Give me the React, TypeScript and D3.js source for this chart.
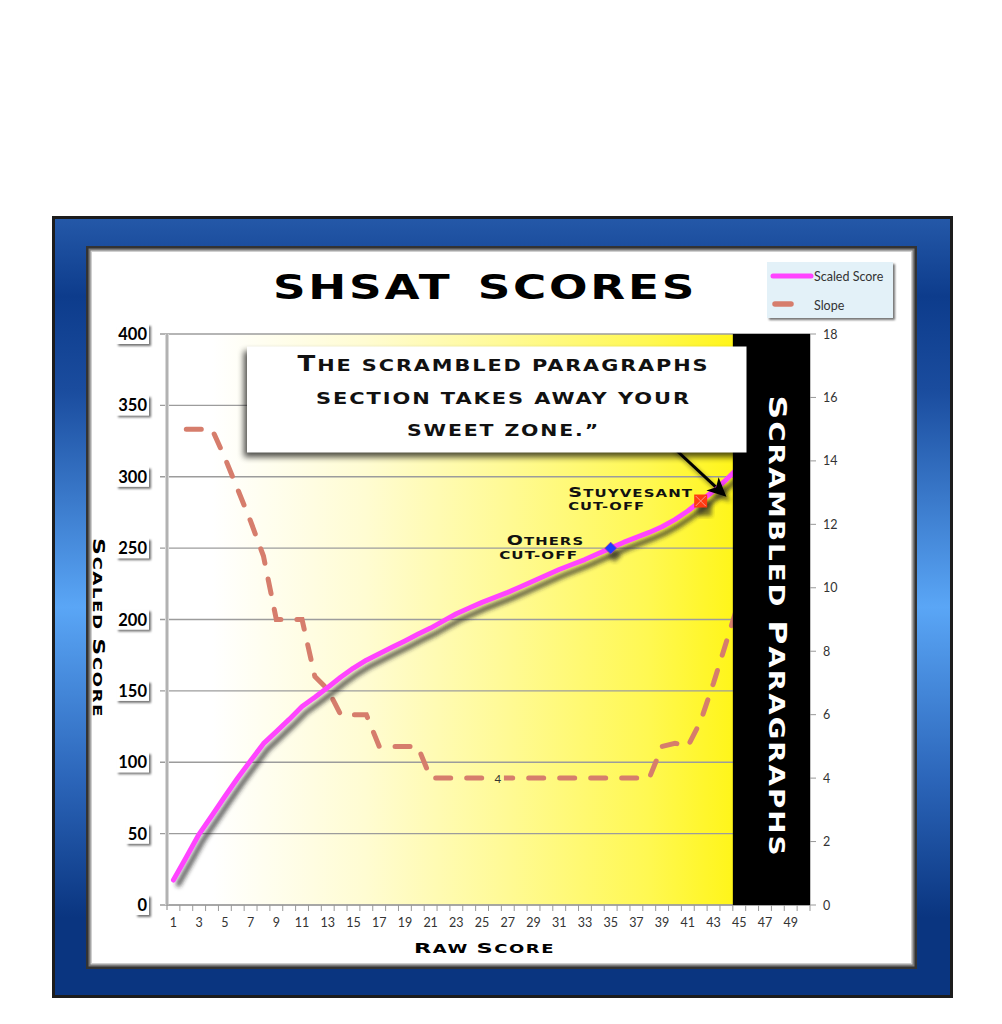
import { useEffect, useRef } from "react";
import * as d3 from "d3";

// Raw score categories (x axis)
const rawScores = [
  1, 2, 3, 4, 5, 6, 7, 8, 9, 10, 11, 12, 13, 14, 15, 16, 17, 18, 19, 20, 21, 22,
  23, 24, 25, 26, 27, 28, 29, 30, 31, 32, 33, 34, 35, 36, 37, 38, 39, 40, 41, 42,
  43, 44, 45, 46, 47, 48, 49, 50,
];

// Scaled score for raw 1..45 (left axis)
const scaledScores = [
  17.5, 33.4, 49.7, 62.7, 76, 89, 101, 113, 121.5, 130, 139, 145.5, 152.4, 159.5,
  166, 171.5, 176, 180.5, 185, 189.6, 194, 199, 204, 208, 212, 215.5, 219, 223,
  227, 231, 235, 238.5, 242, 246, 250, 254, 257.5, 261, 265, 270, 276, 283, 290,
  298, 307,
];

// Slope for raw 2..45 (right axis)
const slopeRaw = [
  2, 3, 4, 5, 6, 7, 8, 9, 10, 11, 12, 13, 14, 15, 16, 17, 18, 19, 20, 21, 22, 23,
  24, 25, 26, 27, 28, 29, 30, 31, 32, 33, 34, 35, 36, 37, 38, 39, 40, 41, 42, 43,
  44, 45,
];
const slopes = [
  15, 15, 15, 14.1, 13.1, 12.1, 11, 9, 9, 9, 7.2, 6.8, 6, 6, 6, 5, 5, 5, 5, 4, 4,
  4, 4, 4, 4, 4, 4, 4, 4, 4, 4, 4, 4, 4, 4, 4, 4, 5, 5.1, 5, 5.8, 7, 8.3, 9.6,
];

const leftTicks = [0, 50, 100, 150, 200, 250, 300, 350, 400];
const rightTicks = [0, 2, 4, 6, 8, 10, 12, 14, 16, 18];
const xTickLabels = [
  1, 3, 5, 7, 9, 11, 13, 15, 17, 19, 21, 23, 25, 27, 29, 31, 33, 35, 37, 39, 41,
  43, 45, 47, 49,
];

const bandStart = 45; // scrambled paragraphs region
const othersCutoff = 35;
const stuyCutoff = 42;
const slopeLabelAt = 26;

const HEAD = "'DejaVu Sans', sans-serif";
const BODY = "Lato, 'Open Sans', sans-serif";

// write text as small caps: capitals at full size, lowercase as smaller capitals
function smallCaps(t: any, text: string, big: number, ratio: number) {
  let prevSmall = false;
  const runs: { s: string; small: boolean }[] = [];
  for (const ch of text) {
    const isLetter = ch.toLowerCase() !== ch.toUpperCase();
    const small = isLetter ? ch !== ch.toUpperCase() : prevSmall;
    prevSmall = small;
    if (runs.length && runs[runs.length - 1].small === small) {
      runs[runs.length - 1].s += ch.toUpperCase();
    } else {
      runs.push({ s: ch.toUpperCase(), small });
    }
  }
  runs.forEach((r) => {
    t.append("tspan")
      .attr("font-size", r.small ? big * ratio : big)
      .text(r.s);
  });
  return t;
}

const App = () => {
  const svgRef = useRef(null);

  useEffect(() => {
    if (!svgRef.current) return;
    const svg = d3.select(svgRef.current);
    svg.selectAll("*").remove();

    const defs = svg.append("defs");

    const addGrad = (id: string, stops: [number, string][], horiz: any) => {
      const g = defs
        .append("linearGradient")
        .attr("id", id)
        .attr("gradientUnits", horiz ? "userSpaceOnUse" : "objectBoundingBox");
      if (horiz) {
        g.attr("x1", horiz[0]).attr("x2", horiz[1]).attr("y1", 0).attr("y2", 0);
      } else {
        g.attr("x1", 0).attr("x2", 0).attr("y1", 0).attr("y2", 1);
      }
      stops.forEach(([o, c]) =>
        g.append("stop").attr("offset", o).attr("stop-color", c),
      );
    };

    const blur = (id: string, sd: number) =>
      defs
        .append("filter")
        .attr("id", id)
        .attr("x", "-20%")
        .attr("y", "-20%")
        .attr("width", "140%")
        .attr("height", "140%")
        .append("feGaussianBlur")
        .attr("stdDeviation", sd);
    blur("blur2", 2);
    blur("blur3", 3);

    const sh = defs
      .append("filter")
      .attr("id", "boxShadow")
      .attr("x", "-20%")
      .attr("y", "-20%")
      .attr("width", "150%")
      .attr("height", "150%");
    sh.append("feDropShadow")
      .attr("dx", 2)
      .attr("dy", 2)
      .attr("stdDeviation", 1.2)
      .attr("flood-color", "#000")
      .attr("flood-opacity", 0.55);

    // scales
    const x = d3.scaleBand<number>().domain(rawScores).range([167, 810]);
    const xc = (d: number) => (x(d) as number) + x.bandwidth() / 2;
    const yL = d3.scaleLinear().domain([0, 400]).range([905, 334]);
    const yR = d3.scaleLinear().domain([0, 18]).range([905, 334]);
    const [plotL, plotR] = x.range();
    const [plotB, plotT] = yL.range();

    // frame
    addGrad(
      "frameBlue",
      [
        [0, "#2458a8"],
        [0.1, "#0d3c8c"],
        [0.22, "#1a4c9e"],
        [0.5, "#5aa6f6"],
        [0.72, "#2c66ba"],
        [0.9, "#0a3580"],
        [1, "#0a3580"],
      ],
      null,
    );
    svg.append("rect").attr("x", 52).attr("y", 216).attr("width", 901).attr("height", 782).attr("fill", "#1c1c1c");
    svg.append("rect").attr("x", 55).attr("y", 219).attr("width", 895).attr("height", 776).attr("fill", "url(#frameBlue)");
    svg.append("rect").attr("x", 86).attr("y", 246).attr("width", 831).attr("height", 723).attr("fill", "#333");
    svg.append("rect").attr("x", 88.5).attr("y", 248.5).attr("width", 826).attr("height", 718).attr("fill", "#7a7a7a");
    svg.append("rect").attr("x", 90.5).attr("y", 250.5).attr("width", 822).attr("height", 714).attr("fill", "#cfcfcf");
    svg.append("rect").attr("x", 92).attr("y", 252).attr("width", 819).attr("height", 711).attr("fill", "#fff");

    // plot background
    addGrad(
      "plotYellow",
      [
        [0, "#ffffff"],
        [0.08, "#ffffff"],
        [0.35, "#fffcd2"],
        [0.6, "#fffa95"],
        [0.85, "#fff852"],
        [1, "#fff51a"],
      ],
      [plotL, xc(bandStart) - x.bandwidth() / 2],
    );
    svg.append("rect")
      .attr("x", plotL)
      .attr("y", plotT)
      .attr("width", plotR - plotL)
      .attr("height", plotB - plotT)
      .attr("fill", "url(#plotYellow)");

    // gridlines + left ticks
    svg.append("g")
      .selectAll("line")
      .data(leftTicks)
      .join("line")
      .attr("x1", plotL - 7)
      .attr("x2", plotR)
      .attr("y1", (d) => yL(d))
      .attr("y2", (d) => yL(d))
      .attr("stroke", "#9c9c9c")
      .attr("stroke-width", 1.3);

    // left axis line
    svg.append("line")
      .attr("x1", plotL).attr("x2", plotL)
      .attr("y1", plotT).attr("y2", plotB)
      .attr("stroke", "#d8d8d8").attr("stroke-width", 4);
    svg.append("line")
      .attr("x1", plotL).attr("x2", plotL)
      .attr("y1", plotT).attr("y2", plotB + 5)
      .attr("stroke", "#999").attr("stroke-width", 1.2);

    // left labels with shadowed boxes
    const lt = svg.append("g").selectAll("g").data(leftTicks).join("g");
    lt.append("rect")
      .attr("x", (d) => 149 - (String(d).length * 9.6 + 4))
      .attr("y", (d) => yL(d) - 10)
      .attr("width", (d) => String(d).length * 9.6 + 4)
      .attr("height", 20)
      .attr("fill", "#fff")
      .attr("filter", "url(#boxShadow)");
    lt.append("text")
      .attr("x", 147)
      .attr("y", (d) => yL(d) + 6)
      .attr("text-anchor", "end")
      .attr("font-family", BODY)
      .attr("font-weight", 700)
      .attr("font-size", 16.5)
      .attr("fill", "#000")
      .text((d) => d);

    // x axis
    svg.append("line")
      .attr("x1", plotL).attr("x2", plotR)
      .attr("y1", plotB).attr("y2", plotB)
      .attr("stroke", "#999").attr("stroke-width", 1.2);
    svg.append("g")
      .selectAll("line")
      .data(rawScores)
      .join("line")
      .attr("x1", (d) => (x(d) as number) + x.bandwidth())
      .attr("x2", (d) => (x(d) as number) + x.bandwidth())
      .attr("y1", plotB)
      .attr("y2", plotB + 6)
      .attr("stroke", "#999");
    svg.append("g")
      .selectAll("text")
      .data(xTickLabels)
      .join("text")
      .attr("x", (d) => xc(d))
      .attr("y", plotB + 22)
      .attr("text-anchor", "middle")
      .attr("font-family", BODY)
      .attr("font-size", 12.5)
      .attr("fill", "#333")
      .text((d) => d);

    // right axis
    svg.append("line")
      .attr("x1", plotR).attr("x2", plotR)
      .attr("y1", plotT).attr("y2", plotB)
      .attr("stroke", "#999").attr("stroke-width", 1.2);
    svg.append("g")
      .selectAll("line")
      .data(rightTicks)
      .join("line")
      .attr("x1", plotR)
      .attr("x2", plotR + 6)
      .attr("y1", (d) => yR(d))
      .attr("y2", (d) => yR(d))
      .attr("stroke", "#999");
    svg.append("g")
      .selectAll("text")
      .data(rightTicks)
      .join("text")
      .attr("x", plotR + 13)
      .attr("y", (d) => yR(d) + 4.5)
      .attr("font-family", BODY)
      .attr("font-size", 12.5)
      .attr("fill", "#333")
      .text((d) => d);

    // slope (dashed)
    const slopeLine = d3
      .line<number>()
      .x((_, i) => xc(slopeRaw[i]))
      .y((d) => yR(d));
    svg.append("path")
      .datum(slopes)
      .attr("d", slopeLine)
      .attr("fill", "none")
      .attr("stroke", "#d67d6c")
      .attr("stroke-width", 5)
      .attr("stroke-linecap", "round")
      .attr("stroke-dasharray", "15 16");

    // data label sits in a gap of the dashed line
    const lblX = xc(slopeLabelAt) + 3;
    const lblY = yR(slopes[slopeRaw.indexOf(slopeLabelAt)]);
    svg.append("rect")
      .attr("x", lblX - 6)
      .attr("y", lblY - 5)
      .attr("width", 12)
      .attr("height", 10)
      .attr("fill", "url(#plotYellow)");
    svg.append("text")
      .attr("x", lblX)
      .attr("y", lblY + 4.5)
      .attr("text-anchor", "middle")
      .attr("font-family", BODY)
      .attr("font-size", 11.5)
      .attr("fill", "#333")
      .text(slopes[slopeRaw.indexOf(slopeLabelAt)]);

    // scaled score with shadow
    const scoreLine = d3
      .line<number>()
      .x((_, i) => xc(rawScores[i]))
      .y((d) => yL(d));
    svg.append("path")
      .datum(scaledScores)
      .attr("d", scoreLine)
      .attr("fill", "none")
      .attr("stroke", "#2a2a2a")
      .attr("stroke-opacity", 0.75)
      .attr("stroke-width", 5)
      .attr("transform", "translate(4,6)")
      .attr("filter", "url(#blur2)");
    svg.append("path")
      .datum(scaledScores)
      .attr("d", scoreLine)
      .attr("fill", "none")
      .attr("stroke", "#ff44ff")
      .attr("stroke-width", 5)
      .attr("stroke-linecap", "round")
      .attr("stroke-linejoin", "round");

    // cutoff markers
    const oX = xc(othersCutoff);
    const oY = yL(scaledScores[othersCutoff - 1]);
    const sX = xc(stuyCutoff);
    const sY = yL(scaledScores[stuyCutoff - 1]);
    svg.append("path")
      .attr("d", `M${oX + 4},${oY + 1}l6.5,6.5l-6.5,6.5l-6.5,-6.5z`)
      .attr("fill", "#222")
      .attr("opacity", 0.6)
      .attr("filter", "url(#blur2)");
    svg.append("path")
      .attr("d", `M${oX},${oY - 6}l6,6l-6,6l-6,-6z`)
      .attr("fill", "#1d3cff")
      .attr("stroke", "#b04a8a")
      .attr("stroke-width", 0.8);
    svg.append("rect")
      .attr("x", sX - 3).attr("y", sY + 1)
      .attr("width", 14).attr("height", 14)
      .attr("fill", "#222").attr("opacity", 0.6)
      .attr("filter", "url(#blur2)");
    svg.append("rect")
      .attr("x", sX - 6.5).attr("y", sY - 6.5)
      .attr("width", 13).attr("height", 13)
      .attr("fill", "#ff3a12");
    svg.append("path")
      .attr("d", `M${sX - 5},${sY - 5}L${sX + 5},${sY + 5}M${sX + 5},${sY - 5}L${sX - 5},${sY + 5}`)
      .attr("stroke", "#f59a8a")
      .attr("stroke-width", 1);

    // scrambled paragraphs band
    const bandX = x(bandStart) as number;
    svg.append("rect")
      .attr("x", bandX)
      .attr("y", plotT)
      .attr("width", plotR - bandX)
      .attr("height", plotB - plotT)
      .attr("fill", "#000");
    smallCaps(
      svg.append("text")
        .attr("transform", `translate(${bandX + 36},${(plotT + plotB) / 2 + 7}) rotate(90)`)
        .attr("text-anchor", "middle")
        .attr("font-family", HEAD)
        .attr("font-weight", 700)
        .attr("letter-spacing", 1.5)
        .attr("fill", "#fff")
        .attr("textLength", 462)
        .attr("lengthAdjust", "spacingAndGlyphs"),
      "Scrambled Paragraphs",
      25,
      0.84,
    );

    // arrow from the callout to the curve
    const tipX = xc(44);
    const tipY = yL(286);
    const fromX = tipX - 56;
    const fromY = tipY - 52;
    const ang = Math.atan2(tipY - fromY, tipX - fromX);
    const headL = 19;
    const headW = 9;
    const bx = tipX - headL * Math.cos(ang);
    const by = tipY - headL * Math.sin(ang);
    const head = `M${tipX},${tipY}L${bx - headW * Math.sin(ang)},${by + headW * Math.cos(ang)}L${bx + 5 * Math.cos(ang)},${by + 5 * Math.sin(ang)}L${bx + headW * Math.sin(ang)},${by - headW * Math.cos(ang)}Z`;
    const arrowG = svg.append("g");
    arrowG.append("g")
      .attr("transform", "translate(4,5)")
      .attr("opacity", 0.6)
      .attr("filter", "url(#blur2)")
      .call((g) => {
        g.append("line").attr("x1", fromX).attr("y1", fromY).attr("x2", bx).attr("y2", by).attr("stroke", "#222").attr("stroke-width", 3);
        g.append("path").attr("d", head).attr("fill", "#222");
      });
    arrowG.append("line")
      .attr("x1", fromX).attr("y1", fromY)
      .attr("x2", bx + 4 * Math.cos(ang)).attr("y2", by + 4 * Math.sin(ang))
      .attr("stroke", "#000").attr("stroke-width", 3);
    arrowG.append("path").attr("d", head).attr("fill", "#000");

    // callout box
    svg.append("rect")
      .attr("x", 244).attr("y", 351)
      .attr("width", 499).attr("height", 106)
      .attr("fill", "#000").attr("opacity", 0.7)
      .attr("filter", "url(#blur3)");
    svg.append("rect")
      .attr("x", 247).attr("y", 346.5)
      .attr("width", 499.5).attr("height", 106)
      .attr("fill", "#fff");
    const callout = [
      { s: "The scrambled paragraphs", y: 371, w: 412 },
      { s: "section takes away your", y: 403.5, w: 375 },
      { s: "sweet zone.\u201d", y: 435.5, w: 193 },
    ];
    callout.forEach((c) => {
      smallCaps(
        svg.append("text")
          .attr("x", 503.5)
          .attr("y", c.y)
          .attr("text-anchor", "middle")
          .attr("font-family", HEAD)
          .attr("font-weight", 700)
          .attr("letter-spacing", 1.5)
          .attr("fill", "#111")
          .attr("textLength", c.w)
          .attr("lengthAdjust", "spacingAndGlyphs"),
        c.s,
        20.5,
        0.8,
      );
    });

    // cutoff labels
    const label = (s: string, lx: number, ly: number, w: number) =>
      smallCaps(
        svg.append("text")
          .attr("x", lx)
          .attr("y", ly)
          .attr("font-family", HEAD)
          .attr("font-weight", 700)
          .attr("letter-spacing", 0.8)
          .attr("fill", "#111")
          .attr("textLength", w)
          .attr("lengthAdjust", "spacingAndGlyphs"),
        s,
        13.8,
        0.78,
      );
    label("Stuyvesant", sX - 132.5, sY - 4.5, 125);
    label("cut-off", sX - 132.5, sY + 9, 77);
    label("Others", oX - 104, oY - 3, 77.5);
    label("cut-off", oX - 111.5, oY + 11, 79);

    // title
    svg.append("text")
      .attr("x", 485)
      .attr("y", 299)
      .attr("text-anchor", "middle")
      .attr("font-family", HEAD)
      .attr("font-weight", 700)
      .attr("font-size", 33)
      .attr("letter-spacing", 2)
      .attr("word-spacing", 5)
      .attr("fill", "#000")
      .attr("textLength", 424)
      .attr("lengthAdjust", "spacingAndGlyphs")
      .text("SHSAT SCORES");

    // axis titles
    smallCaps(
      svg.append("text")
        .attr("x", 484.5)
        .attr("y", 953)
        .attr("text-anchor", "middle")
        .attr("font-family", HEAD)
        .attr("font-weight", 700)
        .attr("letter-spacing", 1)
        .attr("fill", "#000")
        .attr("textLength", 141)
        .attr("lengthAdjust", "spacingAndGlyphs"),
      "Raw Score",
      14.8,
      0.8,
    );
    smallCaps(
      svg.append("text")
        .attr("transform", `translate(93,628) rotate(90)`)
        .attr("text-anchor", "middle")
        .attr("font-family", HEAD)
        .attr("font-weight", 700)
        .attr("letter-spacing", 1)
        .attr("fill", "#000")
        .attr("textLength", 180)
        .attr("lengthAdjust", "spacingAndGlyphs"),
      "Scaled Score",
      16.5,
      0.78,
    );

    // legend
    const legend = svg.append("g").attr("transform", "translate(767,262)");
    legend.append("rect")
      .attr("width", 126).attr("height", 56)
      .attr("fill", "#e3f1f8")
      .attr("filter", "url(#boxShadow)");
    legend.append("line")
      .attr("x1", 6).attr("x2", 44).attr("y1", 14).attr("y2", 14)
      .attr("stroke", "#ff44ff").attr("stroke-width", 5).attr("stroke-linecap", "round");
    legend.append("text")
      .attr("x", 47).attr("y", 18.5)
      .attr("font-family", BODY).attr("font-size", 12.5).attr("fill", "#333")
      .text("Scaled Score");
    legend.append("line")
      .attr("x1", 8).attr("x2", 24).attr("y1", 42).attr("y2", 42)
      .attr("stroke", "#d67d6c").attr("stroke-width", 5.5).attr("stroke-linecap", "round");
    legend.append("text")
      .attr("x", 47).attr("y", 47.5)
      .attr("font-family", BODY).attr("font-size", 12.5).attr("fill", "#333")
      .text("Slope");
  }, []);

  return (
    <svg
      ref={svgRef}
      width={1002}
      height={1024}
      style={{ position: "absolute", left: 0, top: 0, background: "#fff" }}
    />
  );
};

export default App;
